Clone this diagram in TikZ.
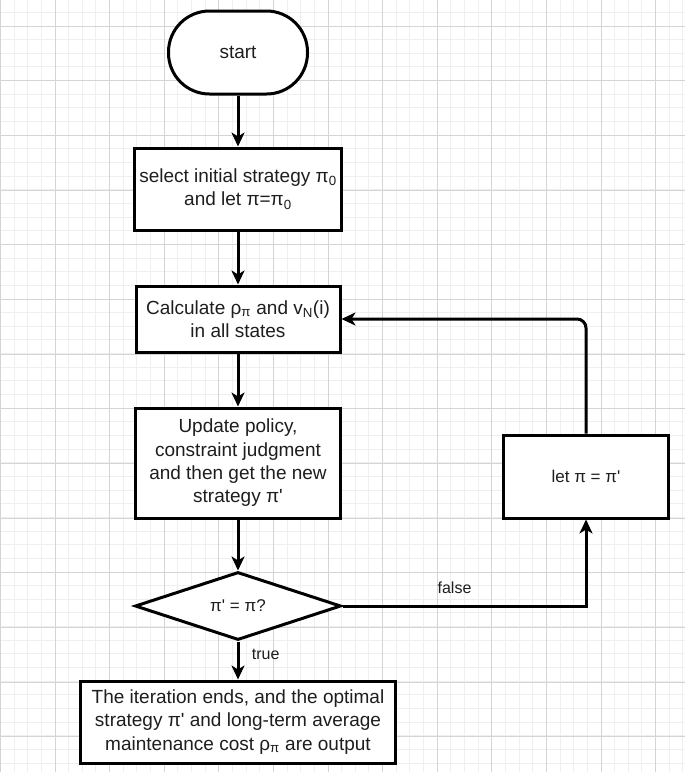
\documentclass[tikz,border=0pt]{standalone}
\usepackage{fontspec}
\setmainfont{Liberation Sans}
\usetikzlibrary{arrows.meta,positioning,shapes.geometric}
\definecolor{gridminor}{HTML}{EFEFEF}
\definecolor{gridmajor}{HTML}{D4D4D4}
\definecolor{ink}{HTML}{1E1E1E}
\newcommand{\pinew}{π\textquotesingle}

\begin{document}
\begin{tikzpicture}[
        x=1pt, y=-1pt,
        node distance=51pt,
        box/.style={rectangle,draw=black,line width=3pt,fill=white,align=center,text=ink,font=\fontsize{19}{23.3}\selectfont,inner sep=2pt},
        term/.style={box,rounded corners=41pt,minimum width=139pt,minimum height=83pt},
        decision/.style={diamond,draw=black,line width=3pt,fill=white,aspect=3,inner sep=0pt,minimum width=206pt,minimum height=68pt,text=ink,font=\fontsize{17}{20}\selectfont},
        arrow/.style={-{Stealth[length=14pt,width=13pt,inset=4pt]},line width=3pt},
        lbl/.style={text=ink,font=\fontsize{16}{19}\selectfont}
    ]
        \useasboundingbox (0,0) rectangle (685,772);
        \fill[white] (0,0) rectangle (685,772);
        \foreach \i in {0,...,50} \draw[gridminor,line width=1pt] ({0.4+13.65*\i},0) -- ({0.4+13.65*\i},772);
        \foreach \j in {0,...,56} \draw[gridminor,line width=1pt] (0,{12.35+13.65*\j}) -- (685,{12.35+13.65*\j});
        \foreach \i in {0,...,12} \draw[gridmajor,line width=1pt] ({0.4+54.6*\i},0) -- ({0.4+54.6*\i},772);
        \foreach \j in {0,...,13} \draw[gridmajor,line width=1pt] (0,{26+54.67*\j}) -- (685,{26+54.67*\j});

        \node[term] at (238,52.5) (start) {start};
        \node[box, below=of start, minimum width=207pt, minimum height=82pt] (select) {select initial strategy π\textsubscript{0}\\and let π=π\textsubscript{0}};
        \node[box, below=53pt of select, minimum width=204pt, minimum height=66pt] (calc) {Calculate ρ\textsubscript{π} and v\textsubscript{N}(i)\\in all states};
        \node[box, below=53pt of calc, minimum width=205pt, minimum height=110pt] (update) {Update policy,\\constraint judgment\\and then get the new\\strategy \pinew};
        \node[decision, below=of update] (check) {\pinew{} = π?};
        \node[box, below=38pt of check, minimum width=315pt, minimum height=82pt] (output) {The iteration ends, and the optimal\\strategy \pinew{} and long-term average\\maintenance cost ρ\textsubscript{π} are output};
        \node[box, above right=0pt and 160pt of update.south east, minimum width=165pt, minimum height=83pt, font=\fontsize{17}{20}\selectfont] (letpi) {let π = \pinew};

        \draw[arrow] (start) -- (select);
        \draw[arrow] (select) -- (calc);
        \draw[arrow] (calc) -- (update);
        \draw[arrow] (update) -- (check);
        \draw[arrow] (check) -- node[lbl, pos=0.35, right=9pt] {true} (output);
        \draw[arrow] (check) -| node[lbl, pos=0.23, above=8pt] {false} (letpi);
        \draw[arrow, rounded corners=9pt] (letpi) |- (calc);
    \end{tikzpicture}
\end{document}
